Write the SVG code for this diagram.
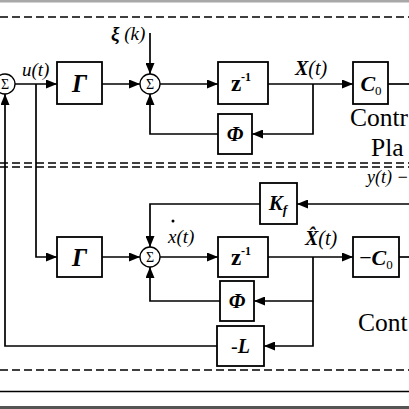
<svg xmlns="http://www.w3.org/2000/svg" width="409" height="409" viewBox="0 0 409 409">
<defs>
<marker id="ah" markerUnits="userSpaceOnUse" markerWidth="11" markerHeight="9" refX="11" refY="4.5" orient="auto">
<path d="M0,0 L11,4.5 L0,9 z" fill="#000"/>
</marker>
<style>
.box{fill:#fff;stroke:#000;stroke-width:1.8}
.sum{fill:#fff;stroke:#000;stroke-width:1.3}
.ln{fill:none;stroke:#000;stroke-width:1.7}
.ar{fill:none;stroke:#000;stroke-width:1.7;marker-end:url(#ah)}
.dash{stroke:#000;stroke-width:1.6;stroke-dasharray:8 4;fill:none}
.t{font-family:"Liberation Serif","Times New Roman",serif;fill:#000}
.bi{font-weight:bold;font-style:italic}
.lbl{font-family:"Liberation Serif","Times New Roman",serif;font-size:25.5px;fill:#000}
</style>
</defs>
<rect x="0" y="0" width="409" height="2.5" fill="#a8a8a8"/>
<rect x="0" y="406" width="409" height="3" fill="#555"/>
<line class="dash" x1="0" y1="17" x2="409" y2="17"/>
<line class="dash" x1="0" y1="163" x2="409" y2="163"/>
<line class="dash" x1="0" y1="167" x2="409" y2="167"/>
<line class="dash" x1="0" y1="370" x2="409" y2="370"/>
<line x1="0" y1="391.5" x2="409" y2="391.5" stroke="#000" stroke-width="1.3"/>

<g id="connectors">
<line class="ar" x1="15" y1="84" x2="57" y2="84"/>
<line class="ar" x1="102" y1="84" x2="140" y2="84"/>
<line class="ar" x1="150" y1="33" x2="150" y2="74"/>
<line class="ar" x1="160" y1="84" x2="218" y2="84"/>
<line class="ar" x1="268" y1="84" x2="353" y2="84"/>
<line class="ln" x1="388" y1="84" x2="409" y2="84"/>
<path class="ar" d="M313,84 V134 H252"/>
<path class="ar" d="M218,134 H150 V94"/>
<path class="ar" d="M36,84 V257 H57"/>
<line class="ar" x1="102" y1="257" x2="140" y2="257"/>
<line class="ar" x1="160" y1="257" x2="218" y2="257"/>
<line class="ar" x1="268" y1="257" x2="353" y2="257"/>
<line class="ln" x1="399" y1="257" x2="409" y2="257"/>
<line class="ar" x1="409" y1="204" x2="297" y2="204"/>
<path class="ar" d="M260,204 H150 V247"/>
<path class="ar" d="M313,257 V301 H254"/>
<path class="ar" d="M220,301 H150 V267"/>
<path class="ar" d="M313,301 V346 H264"/>
<path class="ar" d="M217,346 H5 V94"/>
</g>

<g id="sum0"><circle class="sum" cx="5" cy="84" r="10"/><text class="t" x="5" y="89" font-size="14" text-anchor="middle">Σ</text></g>
<g id="sum1"><circle class="sum" cx="150" cy="84" r="10"/><text class="t" x="150" y="89" font-size="14" text-anchor="middle">Σ</text></g>
<g id="sum2"><circle class="sum" cx="150" cy="257" r="10"/><text class="t" x="150" y="262" font-size="14" text-anchor="middle">Σ</text></g>

<g id="gamma1"><rect class="box" x="57" y="62" width="45" height="42"/><text class="t bi" x="79.5" y="92" font-size="25" text-anchor="middle">Γ</text></g>
<g id="z1"><rect class="box" x="218" y="62" width="50" height="42"/><text class="t" x="241" y="91" font-size="23" text-anchor="middle" font-weight="bold">z<tspan font-size="12" dy="-10">-1</tspan></text></g>
<g id="c0"><rect class="box" x="353" y="62" width="35" height="42"/><text class="t" x="371" y="91" font-size="22" text-anchor="middle"><tspan class="bi">C</tspan><tspan font-size="13" dy="4">0</tspan></text></g>
<g id="phi1"><rect class="box" x="218" y="114" width="34" height="40"/><text class="t bi" x="235" y="141" font-size="21" text-anchor="middle">Φ</text></g>

<g id="kf"><rect class="box" x="260" y="183" width="37" height="41"/><text class="t" x="278" y="210" font-size="21" text-anchor="middle"><tspan class="bi">K</tspan><tspan class="bi" font-size="13" dy="4">f</tspan></text></g>
<g id="gamma2"><rect class="box" x="57" y="237" width="45" height="40"/><text class="t bi" x="79.5" y="266" font-size="25" text-anchor="middle">Γ</text></g>
<g id="z2"><rect class="box" x="218" y="237" width="50" height="40"/><text class="t" x="241" y="265" font-size="23" text-anchor="middle" font-weight="bold">z<tspan font-size="12" dy="-10">-1</tspan></text></g>
<g id="mc0"><rect class="box" x="353" y="237" width="46" height="40"/><text class="t" x="376" y="265" font-size="22" text-anchor="middle">−<tspan class="bi">C</tspan><tspan font-size="13" dy="4">0</tspan></text></g>
<g id="phi2"><rect class="box" x="220" y="281" width="34" height="40"/><text class="t bi" x="237" y="308" font-size="21" text-anchor="middle">Φ</text></g>
<g id="l"><rect class="box" x="217" y="326" width="47" height="40"/><text class="t" x="240.5" y="353" font-size="20" text-anchor="middle">-<tspan class="bi">L</tspan></text></g>

<g id="labels">
<text class="t" x="22" y="76" font-size="19" font-style="italic">u(t)</text>
<text class="t" x="111" y="40" font-size="19" font-style="italic"><tspan font-weight="bold">ξ</tspan> (k)</text>
<text class="t" x="295" y="75" font-size="20" font-style="italic"><tspan font-weight="bold">X</tspan>(t)</text>
<text class="t" x="305" y="245" font-size="20" font-style="italic"><tspan font-weight="bold">X̂</tspan>(t)</text>
<text class="t" x="168" y="243" font-size="19" font-style="italic">x(t)</text>
<circle cx="173" cy="221" r="1.5" fill="#000"/>
<text class="t" x="367" y="183" font-size="18" font-style="italic">y(t) −</text>
<text class="lbl" x="350" y="126">Contr</text>
<text class="lbl" x="371" y="156">Pla</text>
<text class="lbl" x="358" y="331">Cont</text>
</g>
</svg>
